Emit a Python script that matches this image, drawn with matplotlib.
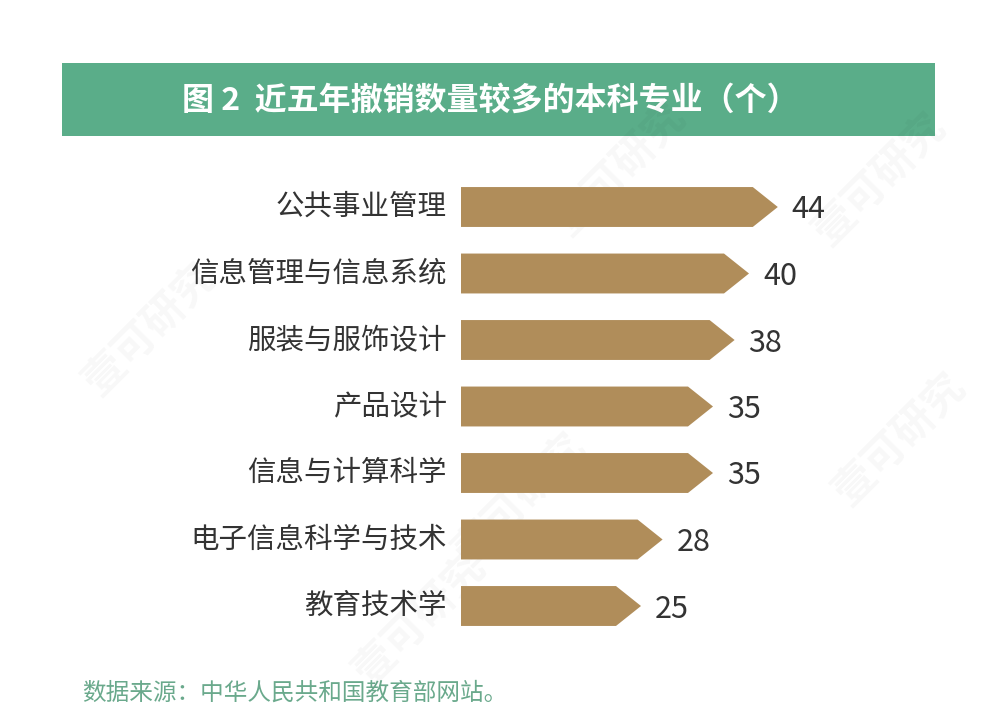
import matplotlib
matplotlib.use("Agg")
import matplotlib.pyplot as plt
from matplotlib.patches import Polygon, Rectangle

plt.rcParams["font.family"] = ["Noto Sans CJK SC", "DejaVu Sans"]

# data
majors = ["公共事业管理", "信息管理与信息系统", "服装与服饰设计", "产品设计",
          "信息与计算科学", "电子信息科学与技术", "教育技术学"]
counts = [44, 40, 38, 35, 35, 28, 25]
title = "图 2  近五年撤销数量较多的本科专业（个）"
source = "数据来源：中华人民共和国教育部网站。"

BAR = "#b08d5a"
GREEN = "#5aad89"
TEXT = "#333333"

W, H = 1000, 728
fig = plt.figure(figsize=(W / 100, H / 100), dpi=100)
fig.patch.set_facecolor("white")

# background layer in pixel coords (banner, footer, watermarks)
bg = fig.add_axes([0, 0, 1, 1])
bg.set_xlim(0, W); bg.set_ylim(H, 0); bg.axis("off")
bg.add_patch(Rectangle((62, 63), 873, 73, facecolor=GREEN, edgecolor="none"))
bg.text(490, 101, title, color="white", fontsize=23, fontweight="bold",
        ha="center", va="center")
bg.text(82, 693, source, color="#6aa98c", fontsize=17, ha="left", va="center")
for (x, y) in [(150, 330), (620, 170), (420, 620), (900, 440), (520, 500), (880, 180)]:
    bg.text(x, y, "壹可研究", color="#000000", alpha=0.03, fontsize=30,
            fontweight="bold", rotation=45, ha="center", va="center")

# bar axes: x data 0 at px 461, 7.2 px per unit
x0_px, px_per = 461, 7.2
xmax = 60
top_px, step = 207 - 33.25, 66.5
ax = fig.add_axes([x0_px / W, 1 - (top_px + step * len(counts)) / H,
                   xmax * px_per / W, step * len(counts) / H])
ax.set_xlim(0, xmax)
ax.set_ylim(len(counts) - 0.5, -0.5)
ax.axis("off")

bh = 0.6
head = 25 / px_per
for i, (m, v) in enumerate(zip(majors, counts)):
    pts = [(0, i - bh / 2), (v - head, i - bh / 2), (v, i),
           (v - head, i + bh / 2), (0, i + bh / 2)]
    ax.add_patch(Polygon(pts, closed=True, facecolor=BAR, edgecolor="none"))
    ax.annotate(m, xy=(0, i), xytext=(-14, 0), textcoords="offset pixels",
                ha="right", va="center", fontsize=20.5, color=TEXT)
    ax.annotate(str(v), xy=(v, i), xytext=(14, -3), textcoords="offset pixels",
                ha="left", va="center", fontsize=22, color=TEXT)

fig.savefig("out.png", dpi=100, facecolor="white")
